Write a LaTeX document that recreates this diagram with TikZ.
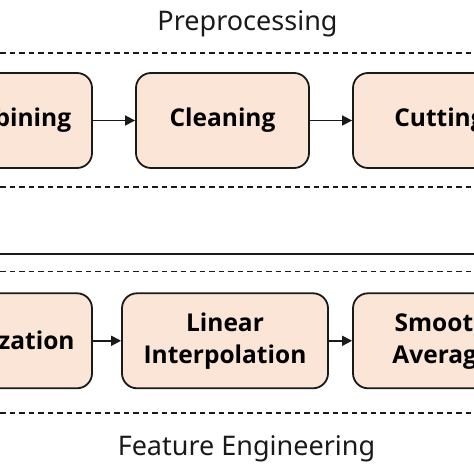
\documentclass[tikz,border=0pt]{standalone}
\usepackage{fontspec}
\setmainfont{Noto Sans}
\newfontfamily\stagefont{Open Sans}[BoldFont={* Bold}]
\usetikzlibrary{arrows.meta}
\usetikzlibrary{positioning}
\definecolor{stagefill}{HTML}{FBE5D6}
\definecolor{stageline}{HTML}{1A1A1A}

\begin{document}
\begin{tikzpicture}[
  stage/.style={draw=stageline, line width=1.8pt, fill=stagefill, rounded corners=15pt,
                minimum height=95pt, align=center,
                font=\stagefont\fontsize{24.5pt}{31.7pt}\selectfont\bfseries},
  flow/.style={draw=stageline, line width=1.6pt, -{Triangle[length=10pt, width=10pt]}},
  rule/.style={draw=stageline, line width=1.6pt, dash pattern=on 5.5pt off 4pt},
  phase/.style={text=stageline, anchor=base, font=\fontsize{27pt}{32pt}\selectfont}
]
\path [use as bounding box, clip] (0, 0) rectangle (474pt, 474pt);
% preprocessing
\node (pre) at (247.5pt, 443pt) [phase] {Preprocessing};
\draw [rule] (0, 421pt) -- ++(474pt, 0);
\draw [rule] (0, 287pt) -- ++(474pt, 0);
\node (comb)  at (5.5pt, 353.5pt)   [stage, minimum width=173pt] {Combining};
\node (clean) at (222.5pt, 353.5pt) [stage, minimum width=173pt] {Cleaning};
\node (cut)   at (439.5pt, 353.5pt) [stage, minimum width=173pt] {Cutting};
\draw [flow] (comb) -- (clean);
\draw [flow] (clean) -- (cut);
\draw [draw=stageline, line width=1.6pt] (0, 219.7pt) -- ++(474pt, 0);
% feature engineering
\draw [rule] (0, 202.3pt) -- ++(474pt, 0);
\draw [rule] (0, 61pt) -- ++(474pt, 0);
\node (norm)   at (-13.5pt, 133.2pt) [stage, minimum width=211pt] {Normalization};
\node (interp) at (225pt, 133.2pt)   [stage, minimum width=206pt] {Linear\\Interpolation};
\node (smooth) at (442pt, 133.2pt)   [stage, minimum width=178pt] {Smooth\\Average};
\draw [flow] (norm) -- (interp);
\draw [flow] (interp) -- (smooth);
\node (feat) at (246.5pt, 18.3pt) [phase] {Feature Engineering};
\end{tikzpicture}
\end{document}
